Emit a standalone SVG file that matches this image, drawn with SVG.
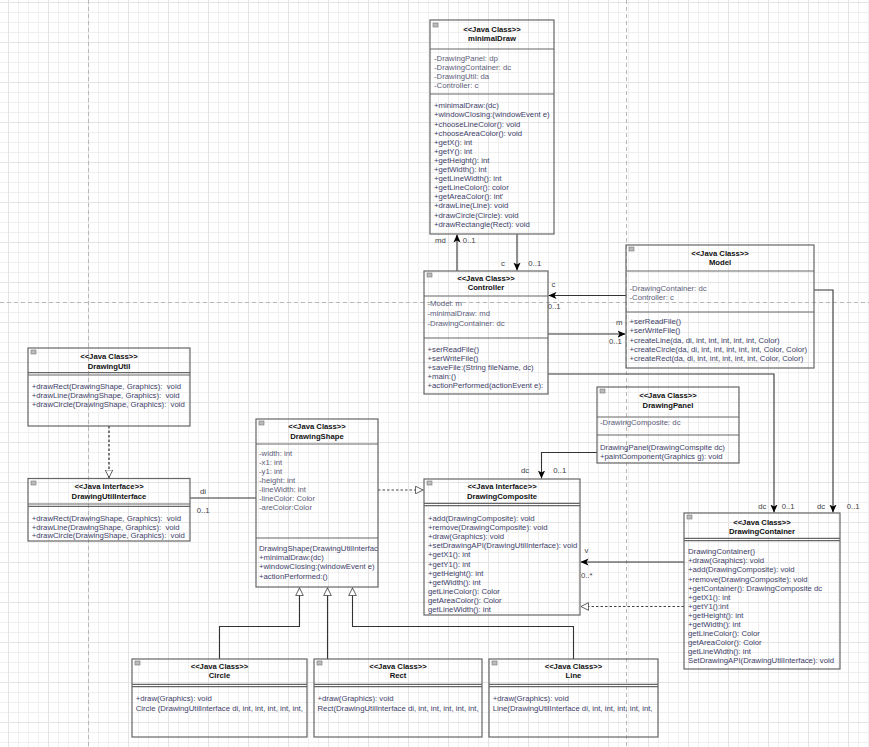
<svg xmlns="http://www.w3.org/2000/svg" width="869" height="747" viewBox="0 0 869 747">
<style>
text{font-family:"Liberation Sans",Arial,sans-serif}
.st{font-size:7.7px;font-weight:bold;fill:#111;text-anchor:middle}
.at{font-size:7.75px;fill:#5e5e7a}
.me{font-size:7.75px;fill:#3e3e68}
.lb{font-size:7.75px;fill:#444}
.box{fill:none;stroke:#666;stroke-width:1.2}
.sep{stroke:#666;stroke-width:1.2}
.ic{fill:#bbb;stroke:#777;stroke-width:0.6}
.cn{fill:none;stroke:#333;stroke-width:1.1}
.dsh{fill:none;stroke:#444;stroke-width:1;stroke-dasharray:2.5 2}
.pg{fill:none;stroke:#b8b8b8;stroke-width:1;stroke-dasharray:4 3}
</style>
<defs>
<pattern id="grid" x="8" y="2" width="40" height="40" patternUnits="userSpaceOnUse">
<path d="M0 10.5H40M0 20.5H40M0 30.5H40M10.5 0V40M20.5 0V40M30.5 0V40" stroke="#f0f0f0" stroke-width="1" fill="none"/>
<path d="M0 0.5H40M0.5 0V40" stroke="#e4e4e4" stroke-width="1" fill="none"/>
</pattern>
<marker id="arr" viewBox="0 0 10 10" refX="10" refY="5" markerWidth="8" markerHeight="8" markerUnits="userSpaceOnUse" orient="auto">
<path d="M0 0.5L10 5L0 9.5L2.5 5Z" fill="#000"/>
</marker>
<marker id="tri" viewBox="0 0 10 10" refX="10" refY="5" markerWidth="8.5" markerHeight="8.5" markerUnits="userSpaceOnUse" orient="auto">
<path d="M0.5 0.5L9.5 5L0.5 9.5Z" fill="#fff" stroke="#444" stroke-width="1"/>
</marker>
<clipPath id="cShape"><rect x="256" y="419" width="122" height="168"/></clipPath>
<clipPath id="cCircle"><rect x="132" y="659" width="175" height="78"/></clipPath>
<clipPath id="cRect"><rect x="314" y="659" width="168" height="78"/></clipPath>
<clipPath id="cLine"><rect x="489" y="659" width="169" height="78"/></clipPath>
</defs>
<rect width="869" height="747" fill="#fff"/>
<rect width="869" height="747" fill="url(#grid)"/>
<path class="pg" d="M88.5 0V747M626.5 0V747M0 302.5H869"/>

<g id="connectors">
<path class="cn" d="M457 271V234.5" marker-end="url(#arr)"/>
<path class="cn" d="M517 234V270.5" marker-end="url(#arr)"/>
<path class="cn" d="M626 295.5H548.5" marker-end="url(#arr)"/>
<path class="cn" d="M548 334H625.5" marker-end="url(#arr)"/>
<path class="cn" d="M548 374H774V512.5" marker-end="url(#arr)"/>
<path class="cn" d="M814 290H833V512.5" marker-end="url(#arr)"/>
<path class="cn" d="M597 452.5H541.5V478.5" marker-end="url(#arr)"/>
<path class="cn" d="M684 562H580.5" marker-end="url(#arr)"/>
<path class="dsh" d="M684 606.5H580.5" marker-end="url(#tri)"/>
<path class="dsh" d="M378 490H423.5" marker-end="url(#tri)"/>
<path class="dsh" d="M109 426V478" marker-end="url(#tri)" style="stroke-width:1.4"/>
<path class="cn" d="M190 498H256"/>
<path class="cn" d="M219.5 659V626.5H299.5V587.5" marker-end="url(#tri)"/>
<path class="cn" d="M327.5 659V587.5" marker-end="url(#tri)"/>
<path class="cn" d="M573.5 659V626.5H352.5V587.5" marker-end="url(#tri)"/>
<text class="lb" x="435" y="242.7">md</text>
<text class="lb" x="462.7" y="242.7">0..1</text>
<text class="lb" x="501" y="266">c</text>
<text class="lb" x="528.3" y="266">0..1</text>
<text class="lb" x="551.5" y="286.7">c</text>
<text class="lb" x="547.7" y="308.7">0..1</text>
<text class="lb" x="616" y="325">m</text>
<text class="lb" x="609" y="344.4">0..1</text>
<text class="lb" x="758.3" y="508.7">dc</text>
<text class="lb" x="781.7" y="508.7">0..1</text>
<text class="lb" x="817" y="508.7">dc</text>
<text class="lb" x="846.7" y="508.7">0..1</text>
<text class="lb" x="521" y="473.4">dc</text>
<text class="lb" x="553.3" y="473.4">0..1</text>
<text class="lb" x="584.5" y="552.7">v</text>
<text class="lb" x="581" y="578.4">0..*</text>
<text class="lb" x="200" y="494.4">di</text>
<text class="lb" x="196.7" y="513.4">0..1</text>
</g>

<g id="minimalDraw">
<rect class="box" x="430" y="20" width="124" height="214"/>
<path class="sep" d="M430 49H554M430 94H554"/>
<rect class="ic" x="433" y="23" width="5" height="4"/>
<text class="st" x="492" y="31.7">&lt;&lt;Java Class&gt;&gt;</text>
<text class="st" x="492" y="41">minimalDraw</text>
<text class="at" x="434" y="61">-DrawingPanel: dp</text>
<text class="at" x="434" y="70">-DrawingContainer: dc</text>
<text class="at" x="434" y="79">-DrawingUtil: da</text>
<text class="at" x="434" y="88">-Controller: c</text>
<text class="me" x="434" y="108">+minimalDraw:(dc)</text>
<text class="me" x="434" y="117">+windowClosing:(windowEvent e)</text>
<text class="me" x="434" y="127">+chooseLineColor(): void</text>
<text class="me" x="434" y="136">+chooseAreaColor(): void</text>
<text class="me" x="434" y="145">+getX(): int</text>
<text class="me" x="434" y="154">+getY(): int</text>
<text class="me" x="434" y="163">+getHeight(): int</text>
<text class="me" x="434" y="172">+getWidth(): int</text>
<text class="me" x="434" y="181">+getLineWidth(): int</text>
<text class="me" x="434" y="190">+getLineColor(): color</text>
<text class="me" x="434" y="199">+getAreaColor(): int'</text>
<text class="me" x="434" y="208">+drawLine(Line): void</text>
<text class="me" x="434" y="218">+drawCircle(Circle): void</text>
<text class="me" x="434" y="227">+drawRectangle(Rect): void</text>
</g>

<g id="Controller">
<rect class="box" x="424" y="271" width="124" height="123"/>
<path class="sep" d="M424 296H548M424 338H548"/>
<rect class="ic" x="427" y="273" width="5" height="4"/>
<text class="st" x="486" y="281">&lt;&lt;Java Class&gt;&gt;</text>
<text class="st" x="486" y="290.4">Controller</text>
<text class="at" x="427.5" y="306.2">-Model: m</text>
<text class="at" x="427.5" y="316.2">-minimalDraw: md</text>
<text class="at" x="427.5" y="325.7">-DrawingContainer: dc</text>
<text class="me" x="427.5" y="352">+serReadFile()</text>
<text class="me" x="427.5" y="361">+serWriteFile()</text>
<text class="me" x="427.5" y="370.4">+saveFile:(String fileName, dc)</text>
<text class="me" x="427.5" y="379.4">+main:()</text>
<text class="me" x="427.5" y="388.4">+actionPerformed(actionEvent e):</text>
</g>

<g id="Model">
<rect class="box" x="626" y="245" width="188" height="123"/>
<path class="sep" d="M626 271H814M626 312H814"/>
<rect class="ic" x="629" y="247" width="5" height="4"/>
<text class="st" x="720" y="256">&lt;&lt;Java Class&gt;&gt;</text>
<text class="st" x="720" y="265">Model</text>
<text class="at" x="629.5" y="291">-DrawingContainer: dc</text>
<text class="at" x="629.5" y="300">-Controller: c</text>
<text class="me" x="629.5" y="324.4">+serReadFile()</text>
<text class="me" x="629.5" y="333.4">+serWriteFile()</text>
<text class="me" x="629.5" y="342.7">+createLine(da, di, int, int, int, int, int, Color)</text>
<text class="me" x="629.5" y="352">+createCircle(da, di, int, int, int, int, int, Color, Color)</text>
<text class="me" x="629.5" y="361.4">+createRect(da, di, int, int, int, int, int, Color, Color)</text>
</g>

<g id="DrawingUtil">
<rect class="box" x="28" y="348" width="162" height="78"/>
<path class="sep" d="M28 372.7H190M28 375H190"/>
<rect class="ic" x="31" y="350" width="5" height="4"/>
<text class="st" x="109" y="359.4">&lt;&lt;Java Class&gt;&gt;</text>
<text class="st" x="109" y="368.7">DrawingUtil</text>
<text class="me" x="31.7" y="388.7">+drawRect(DrawingShape, Graphics):&#160; void</text>
<text class="me" x="31.7" y="397.7">+drawLine(DrawingShape, Graphics):&#160; void</text>
<text class="me" x="31.7" y="406.7">+drawCircle(DrawingShape, Graphics):&#160; void</text>
</g>

<g id="DrawingUtilInterface">
<rect class="box" x="28" y="478.5" width="162" height="62.5"/>
<path class="sep" d="M28 504H190M28 506.3H190"/>
<rect class="ic" x="31" y="481" width="5" height="4"/>
<text class="st" x="109" y="489.4">&lt;&lt;Java Interface&gt;&gt;</text>
<text class="st" x="109" y="498.7">DrawingUtilInterface</text>
<text class="me" x="31.7" y="521">+drawRect(DrawingShape, Graphics):&#160; void</text>
<text class="me" x="31.7" y="529.5">+drawLine(DrawingShape, Graphics):&#160; void</text>
<text class="me" x="31.7" y="538">+drawCircle(DrawingShape, Graphics):&#160; void</text>
</g>

<g id="DrawingShape">
<rect class="box" x="256" y="419" width="122" height="168"/>
<path class="sep" d="M256 444H378M256 538H378"/>
<rect class="ic" x="259" y="421" width="5" height="4"/>
<text class="st" x="317" y="429.4">&lt;&lt;Java Class&gt;&gt;</text>
<text class="st" x="317" y="438.7">DrawingShape</text>
<text class="at" x="259" y="456">-width: int</text>
<text class="at" x="259" y="465">-x1: int</text>
<text class="at" x="259" y="474">-y1: int</text>
<text class="at" x="259" y="483">-height: int</text>
<text class="at" x="259" y="492">-lineWidth: int</text>
<text class="at" x="259" y="501">-lineColor: Color</text>
<text class="at" x="259" y="510">-areColor:Color</text>
<g clip-path="url(#cShape)">
<text class="me" x="259" y="551">DrawingShape(DrawingUtilInterfac</text>
<text class="me" x="259" y="560.4">+minimalDraw:(dc)</text>
<text class="me" x="259" y="569.4">+windowClosing:(windowEvent e)</text>
<text class="me" x="259" y="578.7">+actionPerformed:()</text>
</g>
</g>

<g id="DrawingPanel">
<rect class="box" x="597" y="387" width="142" height="76"/>
<path class="sep" d="M597 417H739M597 435H739"/>
<rect class="ic" x="600" y="389" width="5" height="4"/>
<text class="st" x="668" y="398.4">&lt;&lt;Java Class&gt;&gt;</text>
<text class="st" x="668" y="407.7">DrawingPanel</text>
<text class="at" x="600" y="425.4">-DrawingComposite: dc</text>
<text class="me" x="600" y="450">DrawingPanel(DrawingComspite dc)</text>
<text class="me" x="600" y="459.4">+paintComponent(Graphics g): void</text>
</g>

<g id="DrawingComposite">
<rect class="box" x="424" y="479" width="156" height="136"/>
<path class="sep" d="M424 503.3H580M424 505.7H580"/>
<rect class="ic" x="427" y="481" width="5" height="4"/>
<text class="st" x="502" y="489.4">&lt;&lt;Java Interface&gt;&gt;</text>
<text class="st" x="502" y="498.7">DrawingComposite</text>
<text class="me" x="428" y="521">+add(DrawingComposite): void</text>
<text class="me" x="428" y="530">+remove(DrawingComposite): void</text>
<text class="me" x="428" y="539">+draw(Graphics): void</text>
<text class="me" x="428" y="548">+setDrawingAPI(DrawingUtilInterface): void</text>
<text class="me" x="428" y="557">+getX1(): int</text>
<text class="me" x="428" y="566.7">+getY1(): int</text>
<text class="me" x="428" y="575.7">+getHeight(): int</text>
<text class="me" x="428" y="584.7">+getWidth(): int</text>
<text class="me" x="428" y="593.7">getLineColor(): Color</text>
<text class="me" x="428" y="602.7">getAreaColor(): Color</text>
<text class="me" x="428" y="611.7">getLineWidth(): int</text>
</g>

<g id="DrawingContainer">
<rect class="box" x="684" y="513" width="156" height="156"/>
<path class="sep" d="M684 538.3H840M684 540.7H840"/>
<rect class="ic" x="687" y="515" width="5" height="4"/>
<text class="st" x="762" y="525">&lt;&lt;Java Class&gt;&gt;</text>
<text class="st" x="762" y="534">DrawingContainer</text>
<text class="me" x="688" y="554.4">DrawingContainer()</text>
<text class="me" x="688" y="563">+draw(Graphics): void</text>
<text class="me" x="688" y="572">+add(DrawingComposite): void</text>
<text class="me" x="688" y="582">+remove(DrawingComposite): void</text>
<text class="me" x="688" y="591">+getContainer(): DrawingComposite dc</text>
<text class="me" x="688" y="600">+getX1(): int</text>
<text class="me" x="688" y="609">+getY1():int</text>
<text class="me" x="688" y="618">+getHeight(): int</text>
<text class="me" x="688" y="626.7">+getWidth(): int</text>
<text class="me" x="688" y="636">getLineColor(): Color</text>
<text class="me" x="688" y="645">getAreaColor(): Color</text>
<text class="me" x="688" y="653.7">getLineWidth(): int</text>
<text class="me" x="688" y="663">SetDrawingAPI(DrawingUtilInterface): void</text>
</g>

<g id="Circle">
<rect class="box" x="132" y="659" width="175" height="78"/>
<path class="sep" d="M132 684.3H307M132 686.7H307"/>
<rect class="ic" x="135" y="661" width="5" height="4"/>
<text class="st" x="219.5" y="669.4">&lt;&lt;Java Class&gt;&gt;</text>
<text class="st" x="219.5" y="678.4">Circle</text>
<g clip-path="url(#cCircle)">
<text class="me" x="135.7" y="701">+draw(Graphics): void</text>
<text class="me" x="135.7" y="711">Circle (DrawingUtilInterface di, int, int, int, int, int,</text>
</g>
</g>

<g id="Rect">
<rect class="box" x="314" y="659" width="168" height="78"/>
<path class="sep" d="M314 684.3H482M314 686.7H482"/>
<rect class="ic" x="317" y="661" width="5" height="4"/>
<text class="st" x="398" y="669.4">&lt;&lt;Java Class&gt;&gt;</text>
<text class="st" x="398" y="678.4">Rect</text>
<g clip-path="url(#cRect)">
<text class="me" x="317.5" y="701">+draw(Graphics): void</text>
<text class="me" x="317.5" y="711">Rect(DrawingUtilInterface di, int, int, int, int, int,</text>
</g>
</g>

<g id="Line">
<rect class="box" x="489" y="659" width="169" height="78"/>
<path class="sep" d="M489 684.3H658M489 686.7H658"/>
<rect class="ic" x="492" y="661" width="5" height="4"/>
<text class="st" x="573.5" y="669.4">&lt;&lt;Java Class&gt;&gt;</text>
<text class="st" x="573.5" y="678.4">Line</text>
<g clip-path="url(#cLine)">
<text class="me" x="492.7" y="701">+draw(Graphics): void</text>
<text class="me" x="492.7" y="711">Line(DrawingUtilInterface di, int, int, int, int, int,</text>
</g>
</g>
</svg>
